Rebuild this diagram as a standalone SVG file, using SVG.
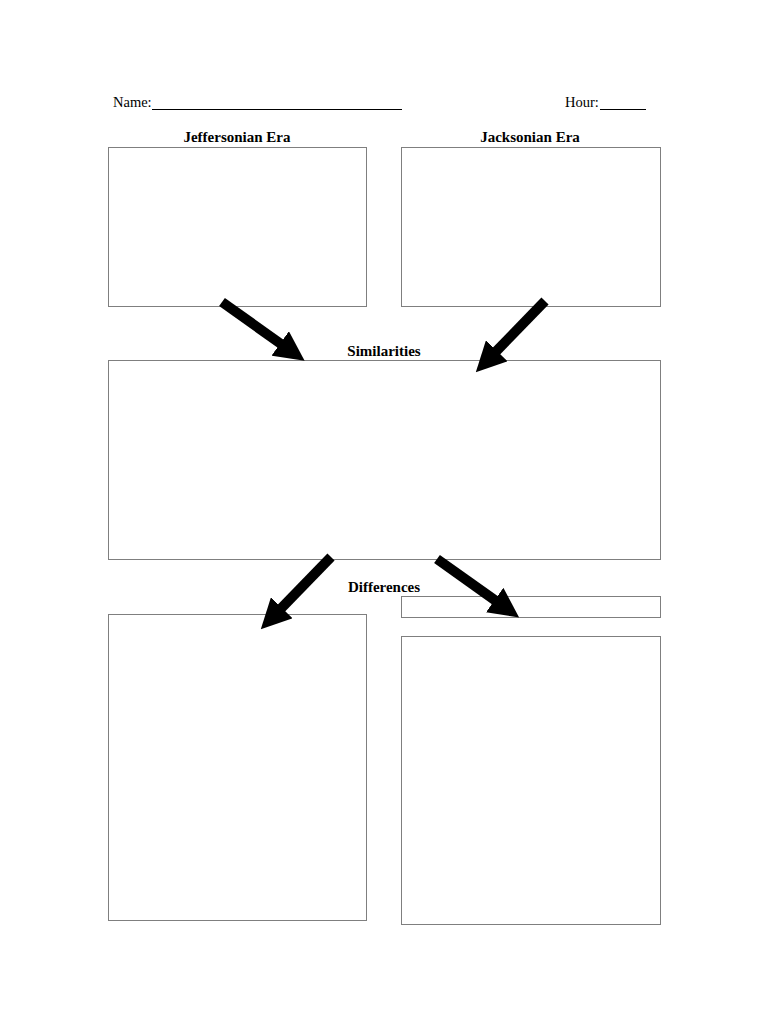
<svg xmlns="http://www.w3.org/2000/svg" width="768" height="1024" viewBox="0 0 768 1024">
<style>
.box{fill:#fff;stroke:#7f7f7f;stroke-width:1}
.t{font-family:"Liberation Serif","Times New Roman",serif;font-size:14.5px;fill:#000}
.h{font-family:"Liberation Serif","Times New Roman",serif;font-size:15px;font-weight:bold;fill:#000;text-anchor:middle}
.ul{stroke:#000;stroke-width:1}
.arr{stroke:#000;stroke-width:10;fill:none;marker-end:url(#head)}
</style>
<defs>
<marker id="head" markerWidth="3" markerHeight="3" refX="0.1" refY="1.5" orient="auto" markerUnits="strokeWidth">
<path d="M0,0 L3,1.5 L0,3 z" fill="#000"/>
</marker>
</defs>
<rect width="768" height="1024" fill="#fff"/>
<g id="header">
<text class="t" x="113" y="107">Name:</text>
<line class="ul" x1="152" y1="109.5" x2="402" y2="109.5"/>
<text class="t" x="565" y="107">Hour:</text>
<line class="ul" x1="600" y1="109.5" x2="646" y2="109.5"/>
</g>
<g id="jeffersonian">
<text class="h" x="237" y="142">Jeffersonian Era</text>
<rect class="box" x="108.5" y="147.5" width="258" height="159"/>
</g>
<g id="jacksonian">
<text class="h" x="530" y="142">Jacksonian Era</text>
<rect class="box" x="401.5" y="147.5" width="259" height="159"/>
</g>
<g id="similarities">
<text class="h" x="384" y="356">Similarities</text>
<rect class="box" x="108.5" y="360.5" width="552" height="199"/>
</g>
<g id="differences-label">
<text class="h" x="384" y="592">Differences</text>
</g>
<g id="differences-small">
<rect class="box" x="401.5" y="596.5" width="259" height="21"/>
</g>
<g id="differences-left">
<rect class="box" x="108.5" y="614.5" width="258" height="306"/>
</g>
<g id="differences-right">
<rect class="box" x="401.5" y="636.5" width="259" height="288"/>
</g>
<g id="connectors">
<line class="arr" x1="222" y1="302" x2="281" y2="344"/>
<line class="arr" x1="545" y1="301" x2="496" y2="351.5"/>
<line class="arr" x1="331" y1="557" x2="281" y2="608.5"/>
<line class="arr" x1="437" y1="559" x2="495.5" y2="600.6"/>
</g>
</svg>
